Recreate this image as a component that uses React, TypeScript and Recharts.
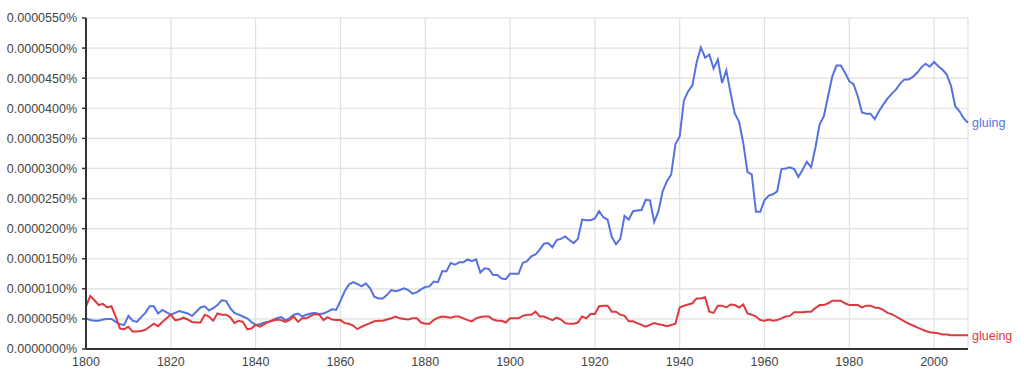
import React from "react"
import { LineChart, Line, XAxis, YAxis, CartesianGrid } from "recharts"

// frequencies in units of 0.000001 %, one value per year from 1800 to 2008
const FIRST_YEAR = 1800

const gluing = [
  5.1, 4.8, 4.7, 4.7, 4.9, 5.0, 5.0, 4.5, 4.1, 4.0,
  5.5, 4.7, 4.5, 5.3, 6.0, 7.1, 7.1, 5.9, 6.5, 6.1,
  5.7, 6.0, 6.3, 6.1, 5.9, 5.5, 6.2, 6.9, 7.1, 6.4,
  6.8, 7.3, 8.1, 8.0, 6.8, 6.0, 5.7, 5.4, 5.1, 4.5,
  4.0, 4.1, 4.4, 4.5, 4.8, 5.1, 5.3, 4.8, 5.1, 5.7,
  5.9, 5.4, 5.7, 5.9, 6.0, 5.8, 5.9, 6.2, 6.6, 6.5,
  8.0, 9.6, 10.7, 11.1, 10.8, 10.4, 10.9, 10.1, 8.7, 8.4,
  8.4, 9.0, 9.8, 9.6, 9.8, 10.1, 9.8, 9.2, 9.4, 9.9,
  10.3, 10.4, 11.2, 11.1, 12.9, 12.9, 14.3, 14.0, 14.4, 14.4,
  14.9, 14.6, 14.9, 12.7, 13.4, 13.3, 12.3, 12.3, 11.7, 11.6,
  12.5, 12.5, 12.5, 14.3, 14.6, 15.4, 15.7, 16.5, 17.5, 17.6,
  16.9, 18.1, 18.3, 18.7, 18.1, 17.6, 18.3, 21.5, 21.4, 21.4,
  21.7, 22.9, 21.9, 21.5, 18.6, 17.4, 18.3, 22.1, 21.5, 22.9,
  23.0, 23.1, 24.8, 24.7, 21.1, 22.9, 26.2, 27.9, 29.0, 34.0,
  35.3, 41.3, 42.8, 43.8, 47.6, 50.1, 48.4, 48.9, 46.6, 48.1,
  44.2, 46.3, 42.6, 39.1, 37.8, 34.2, 29.4, 29.0, 22.8, 22.8,
  24.7, 25.5, 25.7, 26.2, 29.9, 30.0, 30.2, 29.9, 28.6, 29.8,
  31.1, 30.2, 33.4, 37.3, 38.7, 42.0, 45.3, 47.1, 47.1, 45.9,
  44.5, 44.0, 42.0, 39.3, 39.1, 39.1, 38.2, 39.5, 40.6, 41.6,
  42.4, 43.1, 44.1, 44.8, 44.8, 45.2, 45.9, 46.8, 47.4, 46.9,
  47.7, 47.0, 46.4, 45.6, 43.7, 40.3, 39.5, 38.3, 37.6,
]

const glueing = [
  7.1, 8.8, 8.1, 7.3, 7.5, 6.9, 7.1, 5.4, 3.4, 3.3,
  3.7, 2.9, 2.9, 3.0, 3.2, 3.7, 4.2, 3.8, 4.5, 5.1,
  5.7, 4.8, 4.9, 5.2, 4.9, 4.5, 4.4, 4.4, 5.7, 5.4,
  4.7, 5.9, 5.7, 5.7, 5.3, 4.3, 4.7, 4.5, 3.3, 3.4,
  4.0, 3.7, 4.1, 4.5, 4.7, 4.9, 4.8, 4.5, 4.8, 5.4,
  4.5, 5.1, 5.1, 5.5, 5.8, 5.7, 4.8, 5.3, 4.9, 4.8,
  4.8, 4.3, 4.2, 3.9, 3.3, 3.7, 4.0, 4.3, 4.6, 4.7,
  4.7, 4.9, 5.1, 5.4, 5.1, 5.0, 4.9, 5.1, 5.1, 4.4,
  4.2, 4.2, 4.8, 5.2, 5.4, 5.3, 5.2, 5.4, 5.4, 5.1,
  4.8, 4.6, 5.1, 5.3, 5.4, 5.4, 4.9, 4.7, 4.7, 4.4,
  5.1, 5.1, 5.1, 5.5, 5.7, 5.7, 6.2, 5.4, 5.4, 5.1,
  4.8, 5.2, 4.9, 4.3, 4.2, 4.2, 4.4, 5.4, 5.1, 5.8,
  5.8, 7.1, 7.2, 7.2, 6.2, 6.2, 5.7, 5.5, 4.6, 4.6,
  4.3, 4.0, 3.7, 4.0, 4.3, 4.1, 4.0, 3.8, 4.0, 4.2,
  6.9, 7.2, 7.4, 7.6, 8.4, 8.4, 8.6, 6.2, 6.0, 7.2,
  7.2, 6.9, 7.4, 7.3, 6.9, 7.4, 5.9, 5.7, 5.4, 4.8,
  4.7, 4.9, 4.7, 4.8, 5.1, 5.4, 5.5, 6.1, 6.1, 6.1,
  6.2, 6.2, 6.8, 7.3, 7.3, 7.6, 8.0, 8.0, 8.0, 7.6,
  7.3, 7.3, 7.3, 6.9, 7.2, 7.2, 6.9, 6.8, 6.5, 6.0,
  5.8, 5.4, 5.0, 4.6, 4.2, 3.9, 3.6, 3.3, 3.0, 2.8,
  2.7, 2.6, 2.4, 2.4, 2.3, 2.3, 2.3, 2.3, 2.3,
]

const yearTicks = [1800, 1820, 1840, 1860, 1880, 1900, 1920, 1940, 1960, 1980, 2000]
const valueTicks = [0, 5, 10, 15, 20, 25, 30, 35, 40, 45, 50, 55]

const BLUE = "#5472e0"
const RED = "#dc3a3f"
const FONT = "'Liberation Sans', Arial, sans-serif"

const rows = gluing.map((g, i) => ({
  year: FIRST_YEAR + i,
  gluing: g,
  glueing: glueing[i],
}))

const lastIndex = rows.length - 1

const endLabel = (name: string, color: string) => (props: any) => {
  const { x, y, index } = props
  if (index !== lastIndex) return null
  return (
    <text x={x + 4} y={y} dy="0.35em" fill={color} fontSize={12.5} fontFamily={FONT}>
      {name}
    </text>
  )
}

const formatPct = (v: number) => (v * 1e-6).toFixed(7) + "%"

export default function App() {
  return (
    <div style={{ position: "absolute", left: 0, top: 0, width: 1024, height: 377, background: "#fff" }}>
      <LineChart
        width={1024}
        height={377}
        data={rows}
        margin={{ top: 18, right: 56, bottom: 0, left: 0 }}
      >
        <CartesianGrid stroke="#e0e0e0" strokeWidth={1.2} />
        <XAxis
          dataKey="year"
          type="number"
          domain={[1800, 2008]}
          ticks={yearTicks}
          height={28}
          tickLine={false}
          tickSize={6}
          axisLine={{ stroke: "#333", strokeWidth: 2 }}
          tick={{ fill: "#444", fontSize: 12.5, fontFamily: FONT }}
        />
        <YAxis
          type="number"
          domain={[0, 55]}
          ticks={valueTicks}
          width={86}
          tickSize={4}
          tickMargin={5}
          tickFormatter={formatPct}
          axisLine={{ stroke: "#333", strokeWidth: 2 }}
          tickLine={{ stroke: "#333", strokeWidth: 1.5 }}
          tick={{ fill: "#444", fontSize: 12.5, fontFamily: FONT }}
        />
        <Line
          dataKey="gluing"
          stroke={BLUE}
          strokeWidth={2}
          dot={false}
          isAnimationActive={false}
          label={endLabel("gluing", BLUE)}
        />
        <Line
          dataKey="glueing"
          stroke={RED}
          strokeWidth={2}
          dot={false}
          isAnimationActive={false}
          label={endLabel("glueing", RED)}
        />
      </LineChart>
    </div>
  )
}
